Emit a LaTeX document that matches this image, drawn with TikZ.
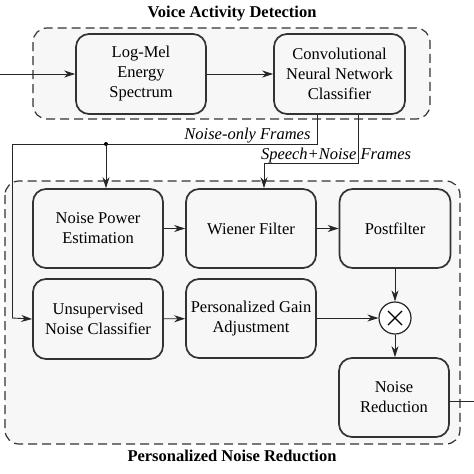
\documentclass[tikz,border=0pt]{standalone}
\usepackage{fontspec}
\setmainfont{Liberation Serif}
\usetikzlibrary{arrows.meta}
\begin{document}
\begin{tikzpicture}[x=1pt,y=-1pt,
  block/.style={draw=black!80, line width=1.7pt, rounded corners=13pt, fill=black!3, align=center,
     font=\fontsize{16.5}{20}\selectfont},
  group/.style={draw=black!80, line width=1.2pt, dash pattern=on 9pt off 5pt, rounded corners=14pt, fill=black!3},
  conn/.style={line width=0.9pt, draw=black!85},
  arr/.style={conn, -{Stealth[length=11pt,width=7pt]}},
  lbl/.style={font=\fontsize{16.5}{18}\selectfont\itshape},
  ttl/.style={font=\fontsize{16.5}{18}\selectfont\bfseries}
]
\useasboundingbox (0,0) rectangle (474,474);
% groups
\draw[group] (33,28) rectangle (430,119);
\draw[group] (5,181) rectangle (460,444);
\node[ttl] (vadt) at (232,14) {Voice Activity Detection};
\node[ttl] (pnrt) at (232,456) {Personalized Noise Reduction};
% VAD blocks
\node[block, minimum width=130pt, minimum height=80pt] (lm) at (141,74) {Log-Mel\\Energy\\Spectrum};
\node[block, minimum width=131pt, minimum height=80pt] (cnn) at (339.5,74) {Convolutional\\Neural Network\\Classifier};
% PNR blocks
\node[block, minimum width=130pt, minimum height=79pt] (npe) at (98,228.5) {Noise Power\\Estimation};
\node[block, minimum width=130pt, minimum height=79pt] (wf) at (251,228.5) {Wiener Filter};
\node[block, minimum width=111pt, minimum height=79pt] (pf) at (395,228.5) {Postfilter};
\node[block, minimum width=130pt, minimum height=80pt] (unc) at (98,319) {Unsupervised\\Noise Classifier};
\node[block, minimum width=130pt, minimum height=79pt] (pga) at (251,318.5) {Personalized Gain\\Adjustment};
\node[draw=black!85, line width=1.2pt, circle, minimum size=32pt, inner sep=0pt, fill=white] (mul) at (395,318) {};
\draw[line width=1.1pt] ([shift={(-7,-7)}]mul.center) -- ([shift={(7,7)}]mul.center)
  ([shift={(-7,7)}]mul.center) -- ([shift={(7,-7)}]mul.center);
\node[block, minimum width=110pt, minimum height=79pt] (nr) at (394,397.5) {Noise\\Reduction};
% coordinates
\coordinate (in) at (0,74);
\coordinate (out) at (474,401);
\coordinate (a1) at (317,144);
\coordinate (a2) at (12,144);
\coordinate (a3) at (12,318);
\coordinate (dot) at (106,144);
\coordinate (b1) at (358,163);
\coordinate (b2) at (264,163);
% connectors
\draw[arr] (in) -- (lm);
\draw[arr] (lm) -- (cnn);
\draw[conn] (cnn.south -| a1) -- (a1) -- (a2) -- (a3);
\draw[arr] (a3) -- (unc.west);
\fill (dot) circle (2pt);
\draw[arr] (dot) -- (npe.north -| dot);
\draw[conn] (cnn.south -| b1) -- (b1) -- (b2);
\draw[arr] (b2) -- (wf.north -| b2);
\draw[arr] (npe) -- (wf);
\draw[arr] (wf) -- (pf);
\draw[arr] (unc) -- (pga);
\draw[arr] (pga.east |- mul) -- (mul);
\draw[arr] (pf.south -| mul) -- (mul);
\draw[arr] (mul) -- (nr.north -| mul);
\draw[conn] (nr.east |- out) -- (out);
% labels
\node[lbl, anchor=east] (l1) at (314,136) {Noise-only Frames};
\node[lbl] (l2) at (336,156) {Speech+Noise Frames};
\end{tikzpicture}
\end{document}
